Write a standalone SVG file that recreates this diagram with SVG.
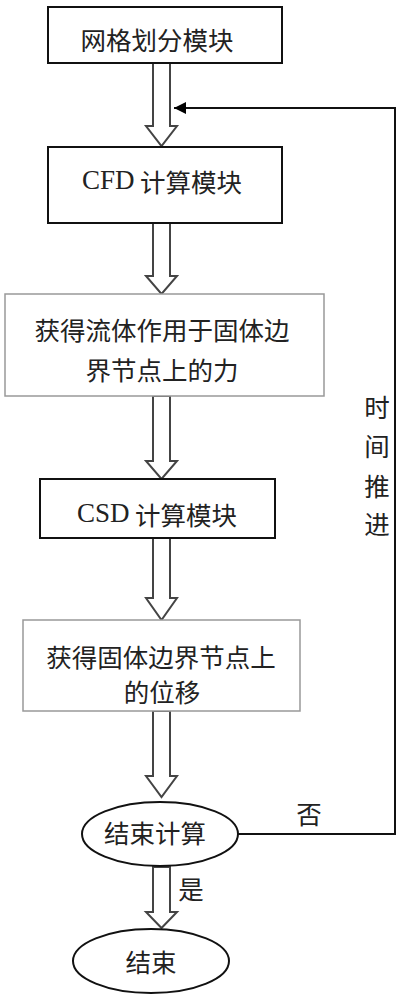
<svg xmlns="http://www.w3.org/2000/svg" width="401" height="1000" viewBox="0 0 401 1000">
<style>
.t{font-family:"Noto Sans CJK SC",sans-serif;font-size:25.5px;fill:#222;text-anchor:middle;dominant-baseline:central}
.e{font-family:"Liberation Serif",serif;font-size:27px}
.bx{fill:#fff;stroke:#111;stroke-width:2}
.bg{fill:#fff;stroke:#999;stroke-width:1.5}
.ar{fill:#fff;stroke:#444;stroke-width:2;stroke-linejoin:miter}
.ln{fill:none;stroke:#111;stroke-width:2}
</style>
<defs>
<marker id="ah" viewBox="0 0 10 10" refX="10" refY="5" markerWidth="6" markerHeight="6" orient="auto" markerUnits="strokeWidth"><path d="M0,0 L10,5 L0,10 z" fill="#000"/></marker>
</defs>
<rect width="401" height="1000" fill="#fff"/>
<g id="connectors">
<path class="ar" d="M153,63 L170,63 L170,126 L177,126 L161.5,146 L146,126 L153,126 Z"/>
<path class="ar" d="M153,223 L170,223 L170,276 L177,276 L161.5,294 L146,276 L153,276 Z"/>
<path class="ar" d="M153,396 L170,396 L170,461 L177,461 L161.5,479 L146,461 L153,461 Z"/>
<path class="ar" d="M153,538 L170,538 L170,598 L177,598 L161.5,620 L146,598 L153,598 Z"/>
<path class="ar" d="M153,711 L170,711 L170,776 L177,776 L161.5,797 L146,776 L153,776 Z"/>
<path class="ar" d="M153,867 L170,867 L170,912 L177,912 L161.5,928 L146,912 L153,912 Z"/>
<path class="ln" d="M238,834 L395,834 L395,108 L174,108" marker-end="url(#ah)"/>
<text class="t" x="309" y="812">否</text>
<text class="t" x="191" y="887">是</text>
<text class="t" x="377" y="405">时</text>
<text class="t" x="377" y="444">间</text>
<text class="t" x="377" y="484">推</text>
<text class="t" x="377" y="522">进</text>
</g>
<g id="n1"><rect class="bx" x="48" y="7" width="234" height="56"/><text class="t" x="157" y="38">网格划分模块</text></g>
<g id="n2"><rect class="bx" x="48" y="147" width="234" height="76"/><text class="t" x="162" y="180"><tspan class="e">CFD</tspan> 计算模块</text></g>
<g id="n3"><rect class="bg" x="5" y="294" width="319" height="102"/><text class="t" x="162" y="328">获得流体作用于固体边</text><text class="t" x="162" y="368">界节点上的力</text></g>
<g id="n4"><rect class="bx" x="40" y="479" width="235" height="59"/><text class="t" x="157" y="513"><tspan class="e">CSD</tspan> 计算模块</text></g>
<g id="n5"><rect class="bg" x="23" y="620" width="277" height="91"/><text class="t" x="161" y="655">获得固体边界节点上</text><text class="t" x="162" y="690">的位移</text></g>
<g id="n6"><ellipse class="bx" cx="160" cy="834" rx="78" ry="32" stroke-width="1.5"/><text class="t" x="155" y="831">结束计算</text></g>
<g id="n7"><ellipse class="bx" cx="151" cy="961" rx="78" ry="32" stroke-width="1.5"/><text class="t" x="151" y="960">结束</text></g>
</svg>
